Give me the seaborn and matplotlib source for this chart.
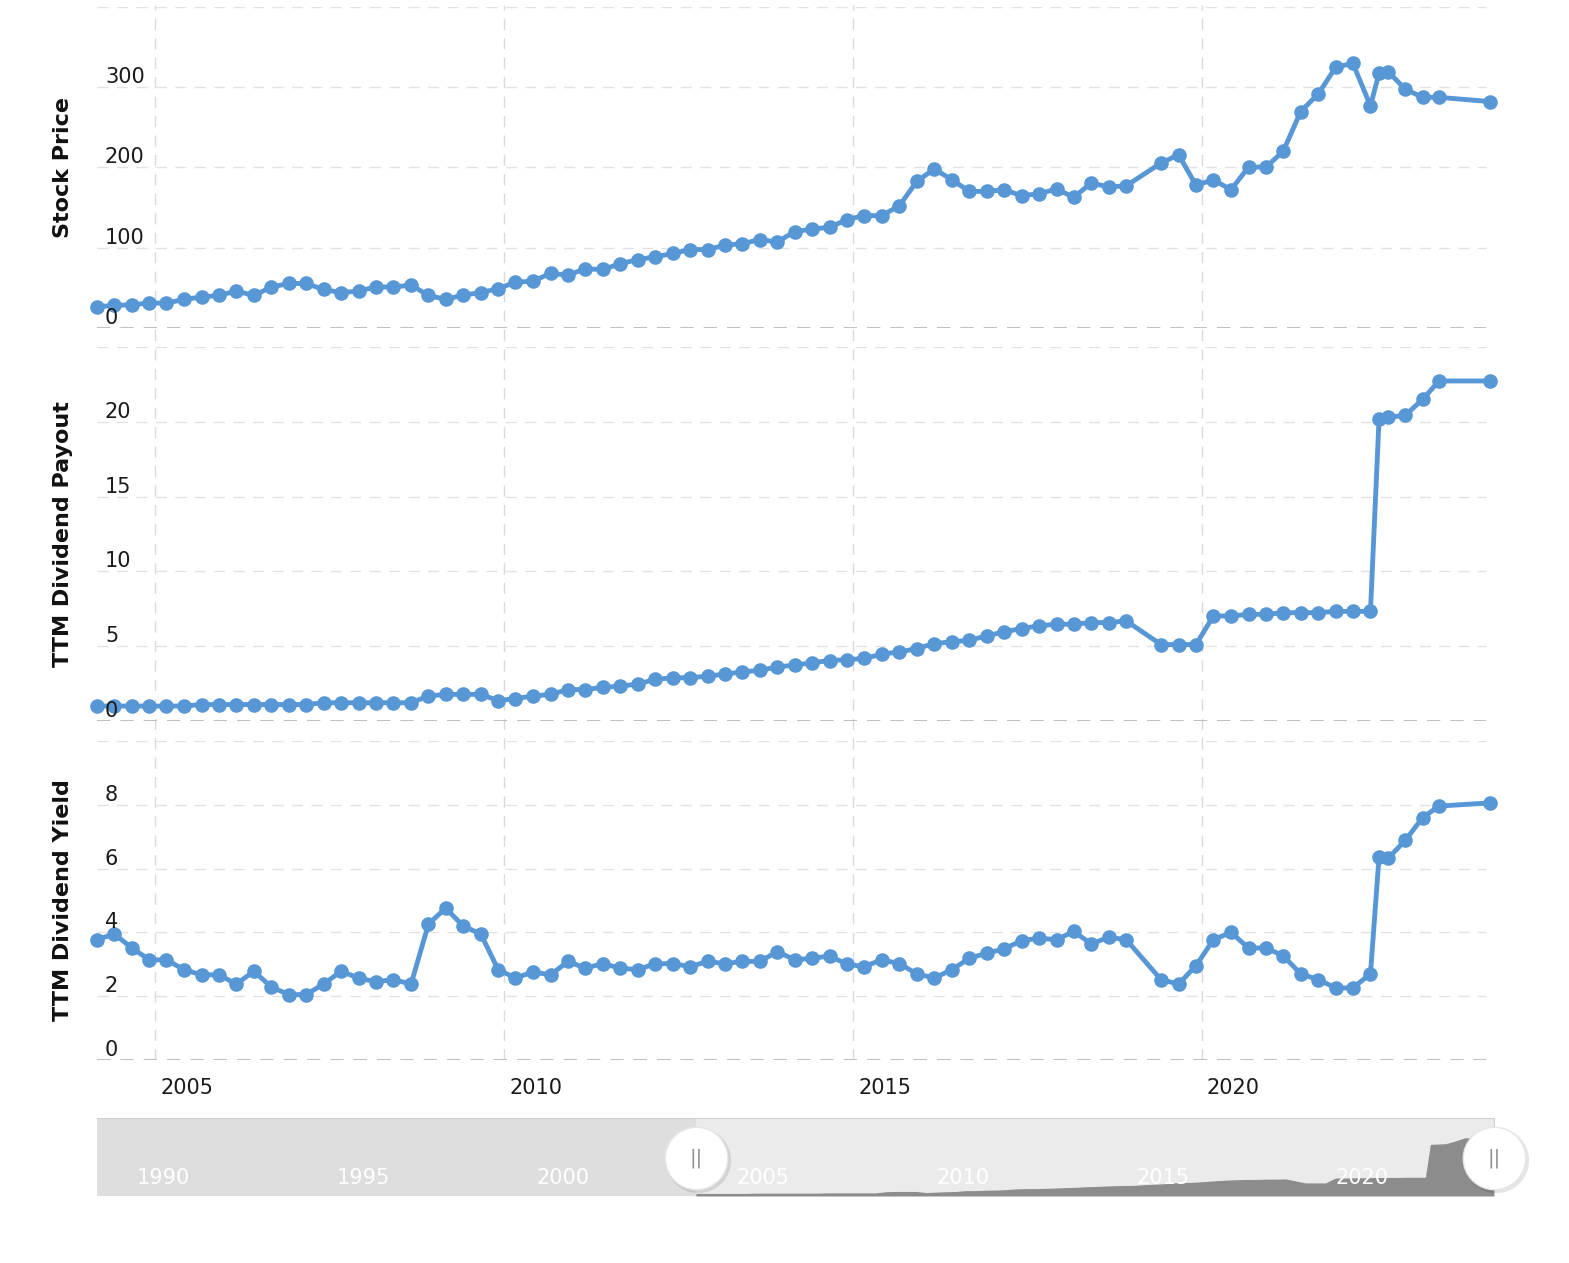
import pandas as pd
import matplotlib
matplotlib.use('Agg')
import matplotlib.pyplot as plt
import matplotlib.dates as mdates
import matplotlib.transforms as mtransforms
import seaborn as sns

dates = [
    '2004-03-01', '2004-06-01', '2004-09-01', '2004-12-01',
    '2005-03-01', '2005-06-01', '2005-09-01', '2005-12-01',
    '2006-03-01', '2006-06-01', '2006-09-01', '2006-12-01',
    '2007-03-01', '2007-06-01', '2007-09-01', '2007-12-01',
    '2008-03-01', '2008-06-01', '2008-09-01', '2008-12-01',
    '2009-03-01', '2009-06-01', '2009-09-01', '2009-12-01',
    '2010-03-01', '2010-06-01', '2010-09-01', '2010-12-01',
    '2011-03-01', '2011-06-01', '2011-09-01', '2011-12-01',
    '2012-03-01', '2012-06-01', '2012-09-01', '2012-12-01',
    '2013-03-01', '2013-06-01', '2013-09-01', '2013-12-01',
    '2014-03-01', '2014-06-01', '2014-09-01', '2014-12-01',
    '2015-03-01', '2015-06-01', '2015-09-01', '2015-12-01',
    '2016-03-01', '2016-06-01', '2016-09-01', '2016-12-01',
    '2017-03-01', '2017-06-01', '2017-09-01', '2017-12-01',
    '2018-03-01', '2018-06-01', '2018-09-01', '2018-12-01',
    '2019-06-01', '2019-09-01', '2019-12-01',
    '2020-03-01', '2020-06-01', '2020-09-01', '2020-12-01',
    '2021-03-01', '2021-06-01', '2021-09-01', '2021-12-01',
    '2022-03-01', '2022-06-01', '2022-07-16', '2022-09-01', '2022-12-01',
    '2023-03-01', '2023-05-26',
    '2024-02-17',
]

stock_price = [
    26.5, 28, 29, 31, 31, 35.6, 38.5, 40.5, 46, 40.5,
    51, 55.4, 55.4, 48, 44, 46, 51, 51, 53.4, 40.5,
    35.6, 41, 44, 49, 57, 58.3, 67.9, 65.8, 73.6, 72.8,
    79.9, 85.2, 88.5, 92.7, 97.6, 97.6, 103, 105, 110, 107,
    120, 123, 125.4, 134.9, 139.8, 139.8, 152.3, 182.5, 197.8, 184.5,
    170, 170, 172, 164.7, 167, 173, 162.6, 180.4, 175.4, 177,
    205.2, 215.6, 177.5, 184.5, 172, 200.2, 200.2, 219.7, 269.3, 291.3,
    324.4, 329.3, 276.4, 317, 319, 297, 287, 287, 281.7,
]

ttm_payout = [
    1.0, 1.0, 1.0, 1.0, 1.0, 1.0, 1.1, 1.1, 1.1, 1.1,
    1.1, 1.1, 1.1, 1.22, 1.22, 1.22, 1.22, 1.22, 1.22, 1.67,
    1.78, 1.78, 1.78, 1.36, 1.5, 1.67, 1.78, 2.1, 2.1, 2.25,
    2.33, 2.47, 2.78, 2.89, 2.89, 3.0, 3.13, 3.29, 3.38, 3.62,
    3.73, 3.9, 4.04, 4.1, 4.18, 4.47, 4.62, 4.84, 5.18, 5.29,
    5.4, 5.69, 5.96, 6.18, 6.36, 6.47, 6.47, 6.58, 6.58, 6.69,
    5.11, 5.11, 5.11, 7.02, 7.02, 7.13, 7.13, 7.24, 7.24, 7.24,
    7.33, 7.33, 7.33, 20.18, 20.29, 20.44, 21.5, 22.73, 22.73,
]

ttm_yield = [
    3.77, 3.95, 3.51, 3.14, 3.14, 2.83, 2.67, 2.67, 2.38, 2.78,
    2.29, 2.05, 2.05, 2.38, 2.78, 2.57, 2.45, 2.52, 2.38, 4.26,
    4.76, 4.2, 3.95, 2.83, 2.57, 2.76, 2.67, 3.09, 2.88, 3.02,
    2.88, 2.83, 3.02, 3.02, 2.93, 3.09, 3.02, 3.09, 3.09, 3.4,
    3.14, 3.19, 3.26, 3.0, 2.93, 3.14, 3.02, 2.7, 2.57, 2.83,
    3.19, 3.35, 3.48, 3.74, 3.82, 3.77, 4.03, 3.64, 3.85, 3.77,
    2.52, 2.38, 2.96, 3.77, 4.0, 3.51, 3.51, 3.27, 2.7, 2.52,
    2.26, 2.26, 2.7, 6.37, 6.32, 6.89, 7.6, 7.96, 8.06,
]

panel_labels = ['Stock Price', 'TTM Dividend Payout', 'TTM Dividend Yield']
price_ticks = [0, 100, 200, 300]
payout_ticks = [0, 5, 10, 15, 20]
yield_ticks = [0, 2, 4, 6, 8]
year_ticks = [2005, 2010, 2015, 2020]
nav_year_ticks = [1990, 1995, 2000, 2005, 2010, 2015, 2020]

df = pd.DataFrame({
    'date': pd.to_datetime(dates),
    'price': stock_price,
    'payout': ttm_payout,
    'yield': ttm_yield,
})

sns.set_style('white')
plt.rcParams['font.family'] = ['DejaVu Sans']

BLUE = '#5797d6'
W, H = 1569, 1263
fig = plt.figure(figsize=(W / 100, H / 100), dpi=100)


def px_axes(left, top, right, bottom):
    return fig.add_axes([left / W, 1 - bottom / H, (right - left) / W, (bottom - top) / H])


def year_num(y):
    yr = int(y)
    start = pd.Timestamp(yr, 1, 1)
    end = pd.Timestamp(yr + 1, 1, 1)
    return mdates.date2num(start + (end - start) * (y - yr))


xlim = (year_num(2004.1675), year_num(2024.199))

# background axes for the vertical grid running through all panels
bg = px_axes(97, 5, 1495, 1060)
bg.set_xlim(xlim)
bg.set_ylim(0, 1)
bg.axis('off')
for yr in year_ticks:
    bg.axvline(year_num(yr), color='#dadada', lw=1, ls=(0, (8, 6)))

panels = [
    (px_axes(97, 6.5, 1495, 328), 'price', price_ticks, 400),
    (px_axes(97, 347, 1495, 721), 'payout', payout_ticks, 25),
    (px_axes(97, 741, 1495, 1060), 'yield', yield_ticks, 10),
]
label_y = [167, 534, 900]

for (ax, col, ticks, top), lab, ly in zip(panels, panel_labels, label_y):
    ax.set_facecolor('none')
    for v in ticks[1:] + [top]:
        ax.axhline(v, xmin=0, xmax=0.9936, color='#e2e2e2', lw=1, ls=(0, (8, 6)), zorder=0)
    ax.axhline(0, xmin=0, xmax=0.9936, color='#b4b4b4', lw=1.2, ls=(0, (8, 6)), zorder=0)
    sns.lineplot(data=df, x='date', y=col, ax=ax, color=BLUE, linewidth=3.5,
                 marker='o', markersize=10.5, markeredgewidth=0, clip_on=False, zorder=3)
    ax.set_xlim(xlim)
    ax.set_ylim(0, top)
    ax.set_xlabel('')
    ax.set_ylabel('')
    ax.set_xticks([])
    ax.set_yticks([])
    for s in ax.spines.values():
        s.set_visible(False)
    tr = mtransforms.offset_copy(ax.get_yaxis_transform(), fig=fig, x=8, y=4, units='dots')
    for v in ticks:
        ax.text(0, v, str(v), transform=tr, ha='left', va='baseline',
                fontsize=15, color='#1a1a1a', zorder=4)
    fig.text(63 / W, 1 - ly / H, lab, rotation=90, ha='center', va='center',
             fontsize=16, fontweight='bold', color='#111111')

ax3 = panels[2][0]
trx = mtransforms.offset_copy(ax3.get_xaxis_transform(), fig=fig, x=5, y=-28, units='dots')
for yr in year_ticks:
    ax3.text(year_num(yr), 0, str(yr), transform=trx, ha='left', va='center',
             fontsize=15, color='#1a1a1a')

# navigator
nav = px_axes(97, 1118, 1495, 1196)
nav_xlim = (year_num(1989.18), year_num(2024.155))
first = mdates.date2num(df['date'].iloc[0])
last = mdates.date2num(df['date'].iloc[-1])
nav.axvspan(nav_xlim[0], first, color='#dedede', lw=0, zorder=0)
nav.axvspan(first, nav_xlim[1], color='#ebebeb', lw=0, zorder=0)
nav.fill_between(df['date'], df['payout'], color='#8c8c8c', lw=0, zorder=1)
nav.set_xlim(nav_xlim)
nav.set_ylim(0, 30.5)
nav.axhline(30.5, color='#cfcfcf', lw=1.5, zorder=2)
nav.axvline(nav_xlim[1], color='#cfcfcf', lw=1.5, zorder=2)
nav.set_xticks([])
nav.set_yticks([])
for s in nav.spines.values():
    s.set_visible(False)
trn = mtransforms.offset_copy(nav.get_xaxis_transform(), fig=fig, x=7, y=0, units='dots')
for yr in nav_year_ticks:
    nav.text(year_num(yr), 0.23, str(yr), transform=trn, ha='left', va='center',
             fontsize=15, color='white', zorder=3)

shadow_tr = nav.get_xaxis_transform() + mtransforms.ScaledTranslation(2 / 100, -2 / 100, fig.dpi_scale_trans)
nav.plot([first, last], [0.487, 0.487], transform=shadow_tr, ls='none', marker='o',
         ms=47, mfc='#000000', mec='none', alpha=0.1, clip_on=False, zorder=5)
nav.plot([first, last], [0.487, 0.487], transform=nav.get_xaxis_transform(), ls='none',
         marker='o', ms=45, mfc='white', mec='#e6e6e6', mew=1, clip_on=False, zorder=6)
for xh in [first, last]:
    nav.text(xh, 0.487, '||', transform=nav.get_xaxis_transform(), ha='center', va='center',
             fontsize=14, color='#8f8f8f', zorder=7)

fig.savefig('out.png', dpi=100)
